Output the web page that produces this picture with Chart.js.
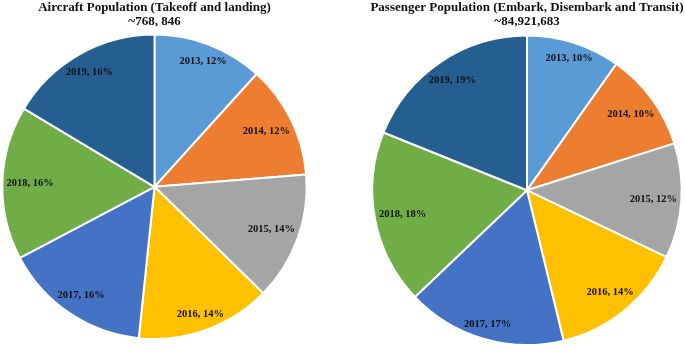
<!DOCTYPE html>
<html>
<head>
<meta charset="utf-8">
<script src="https://cdn.jsdelivr.net/npm/chart.js@4/dist/chart.umd.min.js"></script>
<style>
  html, body { margin: 0; padding: 0; background: #fff; }
  #wrap { position: relative; width: 685px; height: 346px; }
  #aircraft { position: absolute; left: 0; top: 0; }
  #passenger { position: absolute; left: 363px; top: 0; }
</style>
</head>
<body>
<div id="wrap">
  <canvas id="aircraft" width="310" height="346"></canvas>
  <canvas id="passenger" width="322" height="346"></canvas>
</div>
<script>
// years shown as pie slices
var years = ['2013', '2014', '2015', '2016', '2017', '2018', '2019'];
// share of each year, in %
var aircraftShare = [11.7, 12.0, 13.6, 14.3, 15.6, 16.3, 16.4];
var passengerShare = [9.8, 10.3, 12.0, 14.1, 16.7, 18.2, 18.9];
var aircraftTitle = ['Aircraft Population (Takeoff and landing)', '~768, 846'];
var passengerTitle = ['Passenger Population (Embark, Disembark and Transit)', '~84,921,683'];

var sliceColors = ['#5B9BD5', '#ED7D31', '#A5A5A5', '#FFC000', '#4472C4', '#70AD47', '#255E91'];
var serif = '"Liberation Serif", "Times New Roman", serif';

// write "year, pct%" inside the outer end of each slice
var sliceLabels = {
  id: 'sliceLabels',
  afterDatasetsDraw: function(chart) {
    var ctx = chart.ctx;
    var meta = chart.getDatasetMeta(0);
    var values = chart.data.datasets[0].data;
    var total = values.reduce(function(a, b) {return a + b}, 0);
    ctx.save();
    ctx.font = 'bold 10.5px ' + serif;
    ctx.fillStyle = '#111';
    ctx.textAlign = 'center';
    ctx.textBaseline = 'middle';
    meta.data.forEach(function(arc, i) {
      var p = arc.getProps(['x', 'y', 'startAngle', 'endAngle', 'outerRadius'], true);
      var mid = (p.startAngle + p.endAngle) / 2;
      var text = chart.data.labels[i] + ', ' + Math.round(values[i] / total * 100) + '%';
      var hw = ctx.measureText(text).width / 2;
      var hh = 5;
      var c = Math.cos(mid), s = Math.sin(mid);
      var dist = p.outerRadius - 4 - (hw * Math.abs(c) + hh * Math.abs(s));
      ctx.fillText(text, p.x + c * dist, p.y + s * dist);
    });
    ctx.restore();
  }
};

function makePie(id, shares, title, padding, titleBottom) {
  return new Chart(id, {
    type: 'pie',
    data: {
      labels: years,
      datasets: [{
        data: shares,
        backgroundColor: sliceColors,
        borderColor: '#ffffff',
        borderWidth: 2
      }]
    },
    options: {
      responsive: false,
      animation: false,
      layout: {padding: padding},
      plugins: {
        legend: {display: false},
        tooltip: {enabled: false},
        title: {
          display: true,
          text: title,
          color: '#111',
          font: {family: serif, size: 13, weight: 'bold', lineHeight: 1.1},
          padding: {top: 0, bottom: titleBottom}
        }
      }
    },
    plugins: [sliceLabels]
  });
}

makePie('aircraft', aircraftShare, aircraftTitle, {left: 1, right: 2, top: 0, bottom: 6}, 5);
makePie('passenger', passengerShare, passengerTitle, {left: 6, right: 0, top: 0, bottom: 0}, 6);
</script>
</body>
</html>
